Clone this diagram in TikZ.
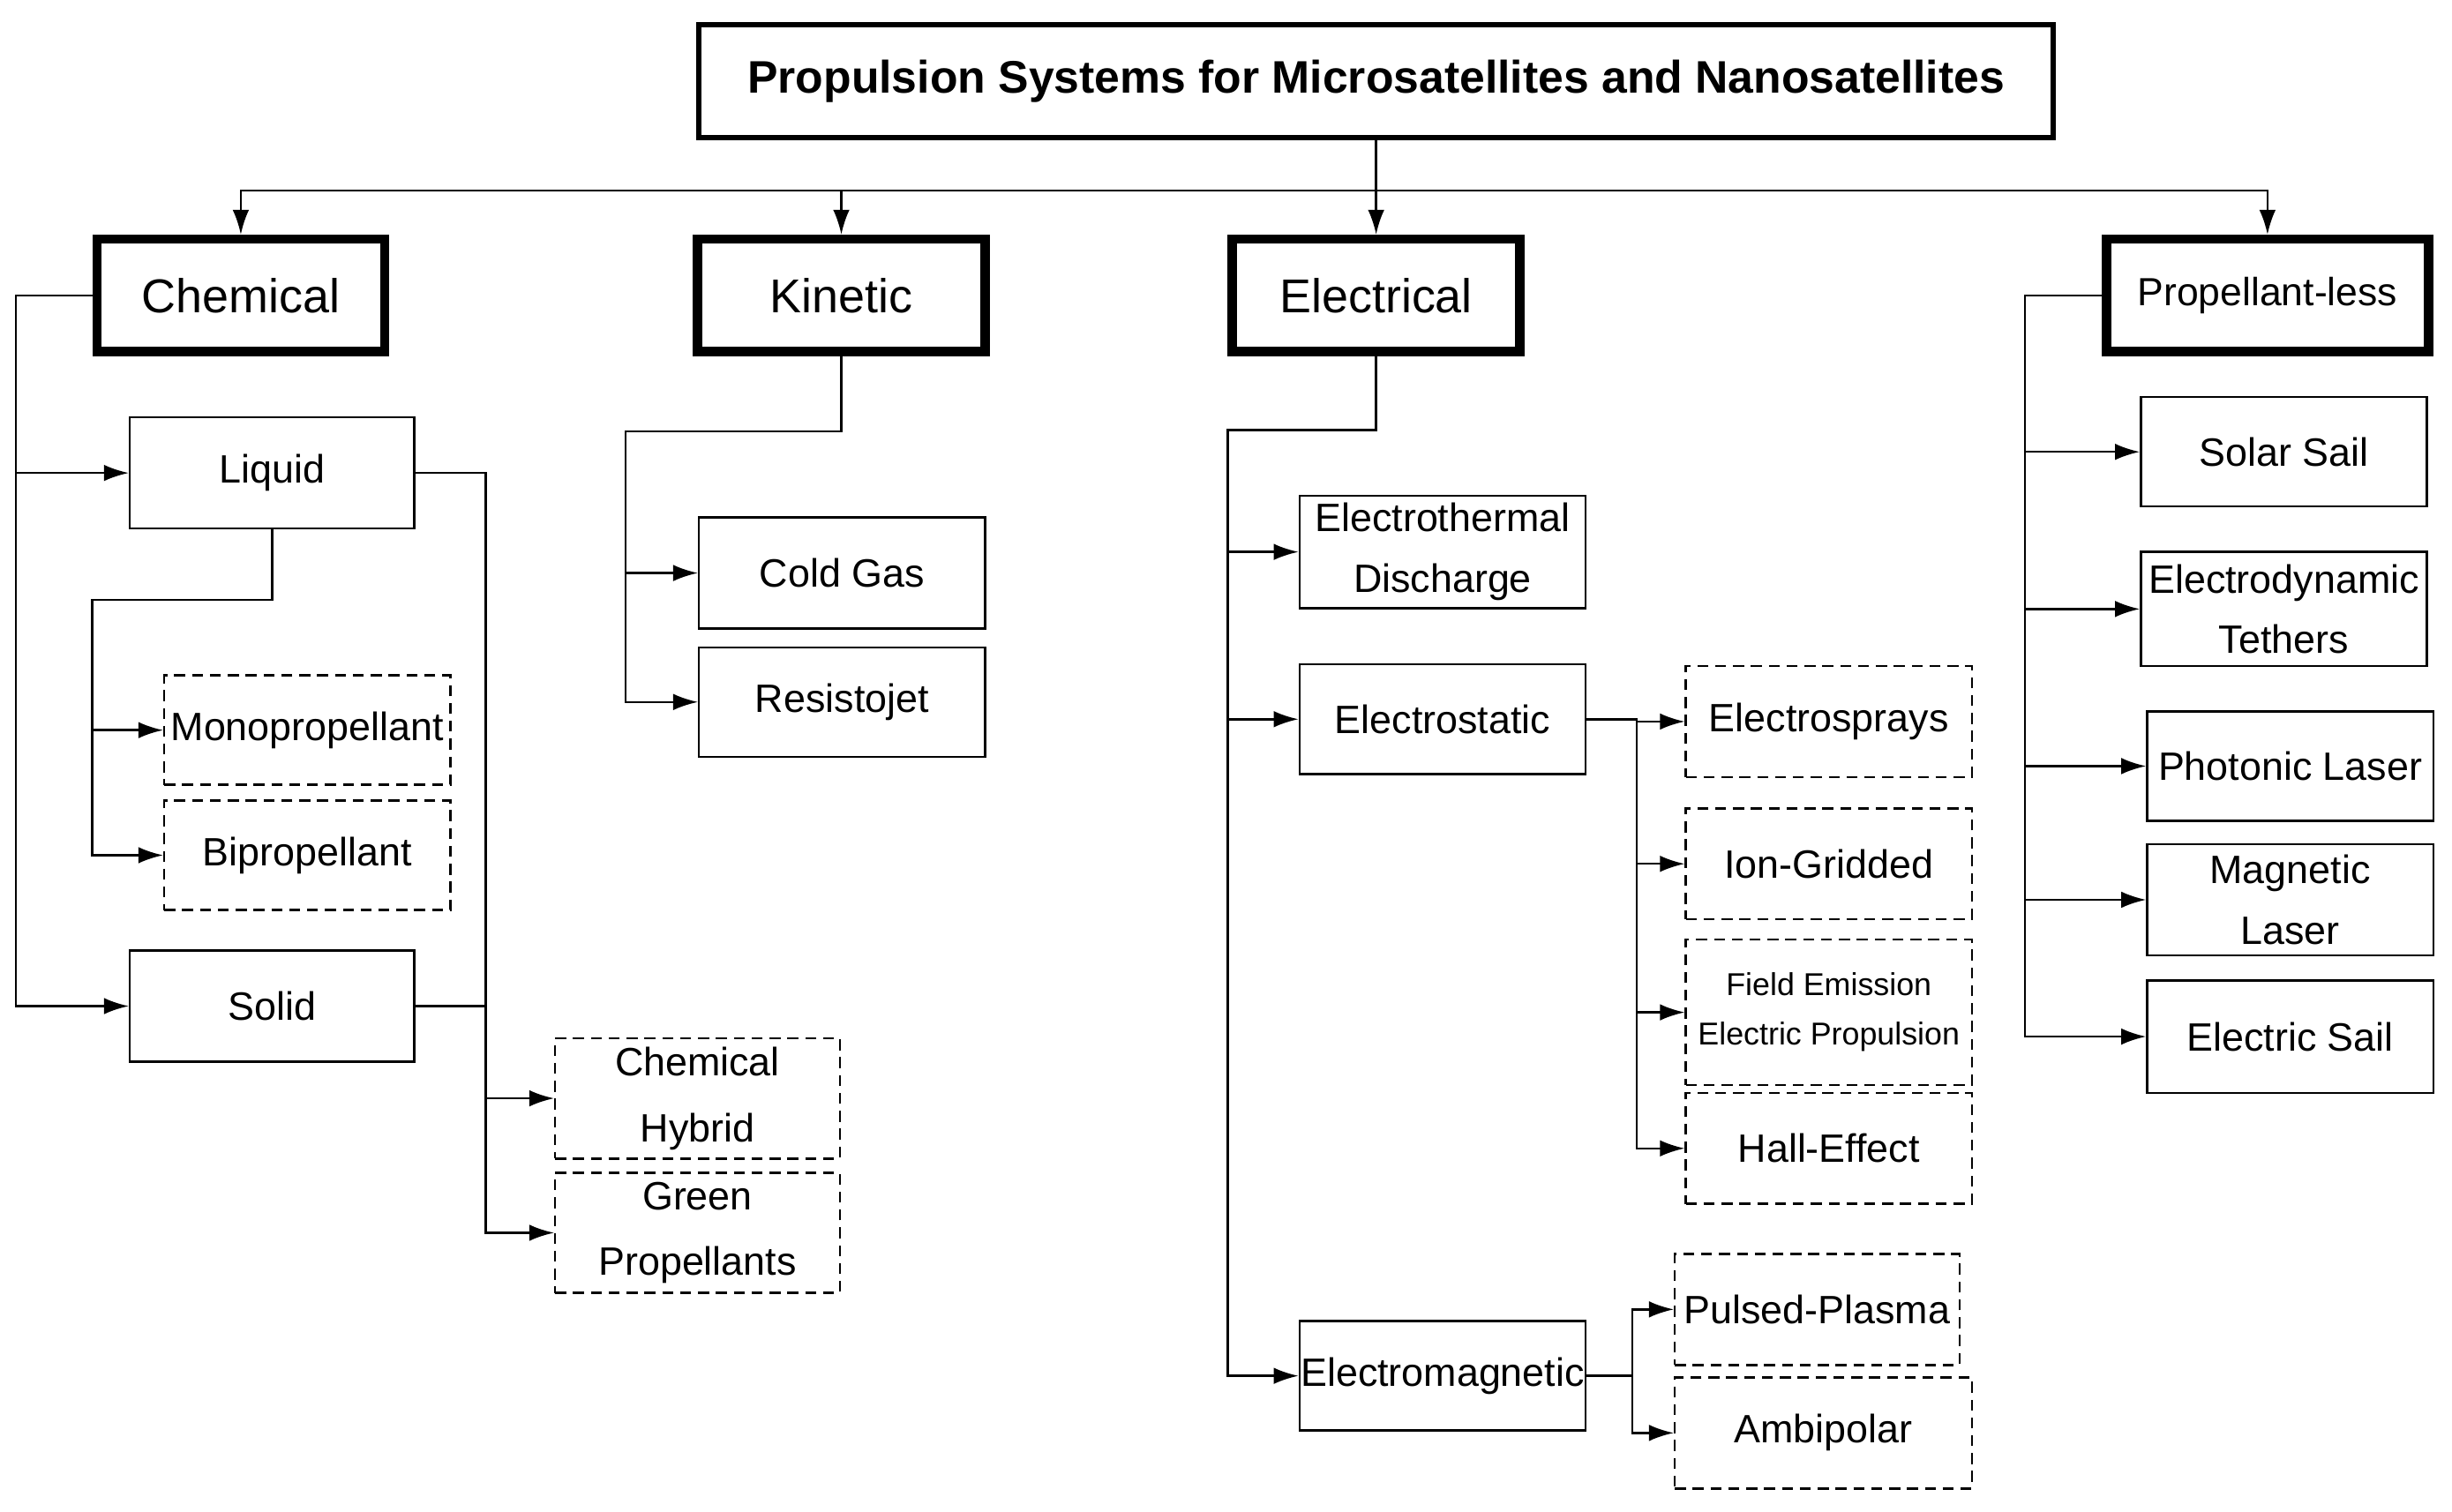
\documentclass[tikz,border=0pt]{standalone}
\usepackage{fontspec}
\setmainfont{Liberation Sans}
\usetikzlibrary{arrows.meta}
\begin{document}
\begin{tikzpicture}[x=0.02cm,y=-0.02cm,
  box/.style={draw,line width=0.8pt,inner sep=0pt,align=center,font=\fontsize{14.4}{19}\selectfont},
  dbox/.style={box,dashed,dash pattern=on 4pt off 2.5pt},
  big/.style={draw,line width=3.4pt,inner sep=0pt,align=center,font=\fontsize{17.3}{20}\selectfont},
  ln/.style={line width=0.8pt},
  arr/.style={ln,-{Latex[length=9pt,width=6pt]}}]
\useasboundingbox (0,0) rectangle (1568,967);
\newcommand{\bx}[7]{\node[#1,minimum width=(#5-#3)*0.02cm,minimum height=(#6-#4)*0.02cm] (#2) at ({(#3+#5)/2},{(#4+#6)/2}) {#7};}
\bx{box,line width=2pt,font=\bfseries\fontsize{16.6}{20}\selectfont}{title}{447}{16}{1313}{88}{Propulsion Systems for Microsatellites and Nanosatellites}
\bx{big}{chem}{62}{153}{246}{225}{Chemical}
\bx{big}{kin}{446}{153}{630}{225}{Kinetic}
\bx{big}{elec}{788}{153}{972}{225}{Electrical}
\bx{big,font=\fontsize{14.3}{18}\selectfont}{pless}{1347}{153}{1553}{225}{Propellant-less}
\bx{box}{liquid}{83}{267}{265}{338}{Liquid}
\bx{dbox}{mono}{105}{432}{288}{502}{Monopropellant}
\bx{dbox}{bi}{105}{512}{288}{582}{Bipropellant}
\bx{box}{solid}{83}{608}{265}{679}{Solid}
\bx{dbox,font=\fontsize{14.4}{24}\selectfont}{hybrid}{355}{664}{537}{741}{Chemical\\Hybrid}
\bx{dbox,font=\fontsize{14.4}{24}\selectfont}{green}{355}{750}{537}{827}{Green\\Propellants}
\bx{box}{cold}{447}{331}{630}{402}{Cold Gas}
\bx{box}{resisto}{447}{414}{630}{484}{Resistojet}
\bx{box,font=\fontsize{14.4}{22}\selectfont}{ethermal}{831}{317}{1014}{389}{Electrothermal\\Discharge}
\bx{box}{estatic}{831}{425}{1014}{495}{Electrostatic}
\bx{dbox}{esprays}{1078}{426}{1261}{497}{Electrosprays}
\bx{dbox}{ion}{1078}{517}{1261}{588}{Ion-Gridded}
\bx{dbox,font=\fontsize{11.5}{18}\selectfont}{field}{1078}{601}{1261}{694}{Field Emission\\Electric Propulsion}
\bx{dbox}{hall}{1078}{699}{1261}{770}{Hall-Effect}
\bx{box}{emag}{831}{845}{1014}{915}{Electromagnetic}
\bx{dbox}{pulsed}{1071}{802}{1253}{873}{Pulsed-Plasma}
\bx{dbox}{ambi}{1071}{881}{1261}{952}{Ambipolar}
\bx{box}{solar}{1369}{254}{1552}{324}{Solar Sail}
\bx{box,font=\fontsize{14.4}{22}\selectfont}{tethers}{1369}{353}{1552}{426}{Electrodynamic\\Tethers}
\bx{box}{photonic}{1373}{455}{1556}{525}{Photonic Laser}
\bx{box,font=\fontsize{14.4}{22}\selectfont}{maglaser}{1373}{540}{1556}{611}{Magnetic\\Laser}
\bx{box}{esail}{1373}{627}{1556}{699}{Electric Sail}
% title
\foreach \t in {chem,kin,elec,pless} \draw[arr] (title.south) -- ++(0,32) -| (\t.north);
% chemical
\foreach \t in {liquid,solid} \draw[arr] (chem.west) -- ++(-49,0) |- (\t.west);
\foreach \t in {mono,bi} \draw[arr] (liquid.south) -- ++(0,45) -| ++(-115,0) |- (\t.west);
\foreach \t in {hybrid,green} \draw[arr] (liquid.east) -- ++(45,0) |- (\t.west);
\draw[ln] (solid.east) -- ++(45,0);
% kinetic
\foreach \t in {cold,resisto} \draw[arr] (kin.south) -- ++(0,48) -| ++(-138,0) |- (\t.west);
% electrical
\foreach \t in {ethermal,estatic,emag} \draw[arr] (elec.south) -- ++(0,47) -| ++(-95,0) |- (\t.west);
\foreach \t in {esprays,ion,field,hall} \draw[arr] (estatic.east) -- ++(32,0) |- (\t.west);
\foreach \t in {pulsed,ambi} \draw[arr] (emag.east) -- ++(29,0) |- (\t.west);
% propellant-less
\foreach \t in {solar,tethers,photonic,maglaser,esail} \draw[arr] (pless.west) -- ++(-49,0) |- (\t.west);
\end{tikzpicture}
\end{document}
